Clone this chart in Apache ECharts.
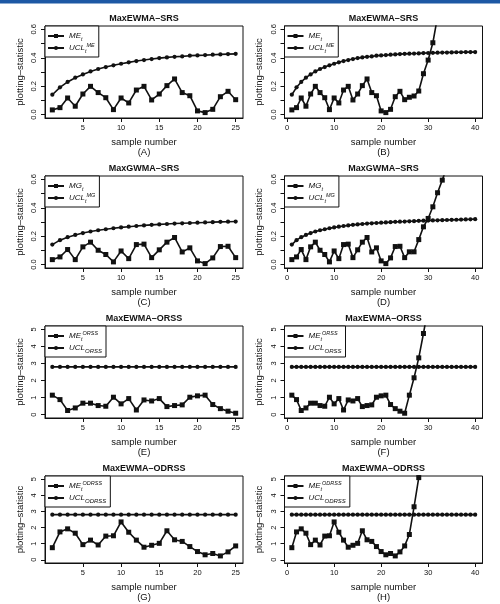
<!DOCTYPE html>
<html>
<head>
<meta charset="utf-8">
<script src="https://cdn.jsdelivr.net/npm/echarts@6/dist/echarts.min.js"></script>
<style>
html, body { margin: 0; padding: 0; background: #fff; }
#chart { width: 500px; height: 604px; }
</style>
</head>
<body>
<div id="chart"></div>
<script>
// values, sample number = index + 1
var meSrs = [0.033, 0.049, 0.117, 0.059, 0.145, 0.199, 0.155, 0.119, 0.035, 0.117, 0.082, 0.173, 0.199,
	0.103, 0.145, 0.204, 0.251, 0.155, 0.133, 0.026, 0.014, 0.037, 0.126, 0.164, 0.105]
var meSrsShift = [0.033, 0.049, 0.117, 0.059, 0.145, 0.199, 0.155, 0.119, 0.035, 0.117, 0.082, 0.173, 0.199,
	0.103, 0.145, 0.204, 0.251, 0.155, 0.133, 0.026, 0.014, 0.037, 0.126, 0.164, 0.105,
	0.122, 0.131, 0.166, 0.288, 0.384, 0.506, 0.69]
var uclMe = [0.14, 0.192, 0.23, 0.26, 0.283, 0.304, 0.321, 0.335, 0.347, 0.358, 0.368, 0.377, 0.384,
	0.391, 0.398, 0.403, 0.407, 0.41, 0.415, 0.417, 0.419, 0.422, 0.424, 0.426, 0.428]
var uclMeLong = [0.14, 0.192, 0.23, 0.26, 0.283, 0.304, 0.321, 0.335, 0.347, 0.358, 0.368, 0.377, 0.384,
	0.391, 0.398, 0.403, 0.407, 0.41, 0.415, 0.417, 0.419, 0.422, 0.424, 0.426, 0.428,
	0.429, 0.43, 0.431, 0.433, 0.434, 0.435, 0.436, 0.437, 0.437, 0.438, 0.439, 0.439, 0.44, 0.44, 0.44]

var mgSrs = [0.035, 0.054, 0.106, 0.035, 0.125, 0.158, 0.101, 0.071, 0.019, 0.096, 0.042, 0.141, 0.144,
	0.049, 0.104, 0.158, 0.191, 0.089, 0.118, 0.026, 0.007, 0.047, 0.127, 0.129, 0.049]
var mgSrsShift = [0.035, 0.054, 0.106, 0.035, 0.125, 0.158, 0.101, 0.071, 0.019, 0.096, 0.042, 0.141, 0.144,
	0.049, 0.104, 0.158, 0.191, 0.089, 0.118, 0.026, 0.007, 0.047, 0.127, 0.129, 0.049,
	0.09, 0.09, 0.176, 0.266, 0.325, 0.407, 0.506, 0.595, 0.69]
var uclMg = [0.141, 0.172, 0.193, 0.209, 0.222, 0.233, 0.242, 0.249, 0.256, 0.262, 0.267, 0.272, 0.276,
	0.28, 0.283, 0.286, 0.289, 0.291, 0.293, 0.295, 0.297, 0.299, 0.301, 0.302, 0.303]
var uclMgLong = [0.141, 0.172, 0.193, 0.209, 0.222, 0.233, 0.242, 0.249, 0.256, 0.262, 0.267, 0.272, 0.276,
	0.28, 0.283, 0.286, 0.289, 0.291, 0.293, 0.295, 0.297, 0.299, 0.301, 0.302, 0.303,
	0.305, 0.306, 0.308, 0.309, 0.31, 0.311, 0.312, 0.313, 0.314, 0.315, 0.316, 0.317, 0.318, 0.319, 0.32]

var meOrss = [1.14, 0.88, 0.24, 0.39, 0.67, 0.67, 0.53, 0.49, 1.02, 0.63, 0.94, 0.27, 0.86,
	0.8, 0.94, 0.47, 0.53, 0.57, 1.02, 1.1, 1.14, 0.59, 0.35, 0.2, 0.08]
var meOrssShift = [1.14, 0.88, 0.24, 0.39, 0.67, 0.67, 0.53, 0.49, 1.02, 0.63, 0.94, 0.27, 0.86,
	0.8, 0.94, 0.47, 0.53, 0.57, 1.02, 1.1, 1.14, 0.59, 0.35, 0.2, 0.08,
	1.14, 2.16, 3.33, 4.76, 6.3]
var meOdrss = [0.75, 1.73, 1.92, 1.65, 0.94, 1.22, 0.92, 1.47, 1.49, 2.35, 1.71, 1.22, 0.78,
	0.9, 1.02, 1.8, 1.24, 1.14, 0.82, 0.51, 0.31, 0.39, 0.24, 0.49, 0.86]
var meOdrssShift = [0.75, 1.73, 1.92, 1.65, 0.94, 1.22, 0.92, 1.47, 1.49, 2.35, 1.71, 1.22, 0.78,
	0.9, 1.02, 1.8, 1.24, 1.14, 0.82, 0.51, 0.31, 0.39, 0.24, 0.49, 0.86,
	1.57, 3.29, 5.1, 6.9]
var uclRss = [2.8, 2.8, 2.8, 2.8, 2.8, 2.8, 2.8, 2.8, 2.8, 2.8, 2.8, 2.8, 2.8,
	2.8, 2.8, 2.8, 2.8, 2.8, 2.8, 2.8, 2.8, 2.8, 2.8, 2.8, 2.8]
var uclRssLong = [2.8, 2.8, 2.8, 2.8, 2.8, 2.8, 2.8, 2.8, 2.8, 2.8, 2.8, 2.8, 2.8,
	2.8, 2.8, 2.8, 2.8, 2.8, 2.8, 2.8, 2.8, 2.8, 2.8, 2.8, 2.8,
	2.8, 2.8, 2.8, 2.8, 2.8, 2.8, 2.8, 2.8, 2.8, 2.8, 2.8, 2.8, 2.8, 2.8, 2.8]

var xTicksShort = [5, 10, 15, 20, 25]
var xTicksLong = [0, 10, 20, 30, 40]
var yTicksSrs = [0, 0.1, 0.2, 0.3, 0.4, 0.5, 0.6]
var yLabelsSrs = [0, 0.2, 0.4, 0.6]
var yTicksRss = [0, 1, 2, 3, 4, 5]

var panels = [
	{ title: 'MaxEWMA\u2013SRS', tag: '(A)', me: meSrs, ucl: uclMe, meText: 'ME{sub|t}', uclText: 'UCL{sub|t}{sup|ME}', srs: true },
	{ title: 'MaxEWMA\u2013SRS', tag: '(B)', me: meSrsShift, ucl: uclMeLong, meText: 'ME{sub|t}', uclText: 'UCL{sub|t}{sup|ME}', srs: true },
	{ title: 'MaxGWMA\u2013SRS', tag: '(C)', me: mgSrs, ucl: uclMg, meText: 'MG{sub|t}', uclText: 'UCL{sub|t}{sup|MG}', srs: true },
	{ title: 'MaxGWMA\u2013SRS', tag: '(D)', me: mgSrsShift, ucl: uclMgLong, meText: 'MG{sub|t}', uclText: 'UCL{sub|t}{sup|MG}', srs: true },
	{ title: 'MaxEWMA\u2013ORSS', tag: '(E)', me: meOrss, ucl: uclRss, meText: 'ME{sub|t}{sup2|ORSS}', uclText: 'UCL{sub2|ORSS}', srs: false },
	{ title: 'MaxEWMA\u2013ORSS', tag: '(F)', me: meOrssShift, ucl: uclRssLong, meText: 'ME{sub|t}{sup2|ORSS}', uclText: 'UCL{sub2|ORSS}', srs: false },
	{ title: 'MaxEWMA\u2013ODRSS', tag: '(G)', me: meOdrss, ucl: uclRss, meText: 'ME{sub|t}{sup2|ODRSS}', uclText: 'UCL{sub2|ODRSS}', srs: false },
	{ title: 'MaxEWMA\u2013ODRSS', tag: '(H)', me: meOdrssShift, ucl: uclRssLong, meText: 'ME{sub|t}{sup2|ODRSS}', uclText: 'UCL{sub2|ODRSS}', srs: false }
]

var font = 'Liberation Sans, Arial, sans-serif'
var ink = '#111'
var rich = {
	sub: { fontSize: 5.5, fontStyle: 'italic', fontFamily: font, color: ink, lineHeight: 6, verticalAlign: 'bottom' },
	sup: { fontSize: 5.5, fontStyle: 'italic', fontFamily: font, color: ink, lineHeight: 6, verticalAlign: 'top' },
	sub2: { fontSize: 6, fontStyle: 'italic', fontFamily: font, color: ink, lineHeight: 7, verticalAlign: 'bottom' },
	sup2: { fontSize: 5.5, fontFamily: font, color: ink, lineHeight: 6, verticalAlign: 'top' }
}

var grids = [], xAxes = [], yAxes = [], series = [], legends = [], titles = []
var labelMap = {}

panels.forEach(function (p, i) {
	var col = i % 2, row = Math.floor(i / 2)
	var left = col === 0 ? 45 : 284.5
	var top = 26 + 150 * row
	grids.push({ left: left, top: top, width: 198, height: 92, show: true, borderColor: ink, borderWidth: 1, containLabel: false })
	xAxes.push({
		type: 'value', gridIndex: i,
		min: col === 0 ? 0.04 : -0.56, max: col === 0 ? 25.96 : 41.56,
		splitLine: { show: false },
		axisLine: { show: true, onZero: false, lineStyle: { color: ink } },
		axisTick: { show: true, length: 4, lineStyle: { color: ink }, customValues: col === 0 ? xTicksShort : xTicksLong },
		axisLabel: { fontSize: 7.5, color: ink, fontFamily: font, margin: 6, customValues: col === 0 ? xTicksShort : xTicksLong },
		name: 'sample number\n' + p.tag, nameLocation: 'middle', nameGap: 19,
		nameTextStyle: { fontSize: 9.5, color: ink, fontFamily: font, lineHeight: 10.5 }
	})
	yAxes.push({
		type: 'value', gridIndex: i,
		min: p.srs ? -0.024 : -0.2, max: p.srs ? 0.624 : 5.2,
		splitLine: { show: false },
		axisLine: { show: true, onZero: false, lineStyle: { color: ink } },
		axisTick: { show: true, length: 4, lineStyle: { color: ink }, customValues: p.srs ? yTicksSrs : yTicksRss },
		axisLabel: {
			fontSize: 7.5, color: ink, fontFamily: font, margin: 7, rotate: 90,
			customValues: p.srs ? yLabelsSrs : yTicksRss,
			formatter: function (v) { return p.srs ? v.toFixed(1) : String(v) }
		},
		name: 'plotting\u2013statistic', nameLocation: 'middle', nameGap: 20,
		nameTextStyle: { fontSize: 9.5, color: ink, fontFamily: font }
	})
	var meName = 'me' + i, uclName = 'ucl' + i
	labelMap[meName] = p.meText
	labelMap[uclName] = p.uclText
	series.push({
		name: meName, type: 'line', xAxisIndex: i, yAxisIndex: i,
		data: p.me.map(function (v, k) { return [k + 1, v] }),
		symbol: 'rect', symbolSize: 5, clip: true,
		lineStyle: { color: ink, width: 1.6 }, itemStyle: { color: ink }
	})
	series.push({
		name: uclName, type: 'line', xAxisIndex: i, yAxisIndex: i,
		data: p.ucl.map(function (v, k) { return [k + 1, v] }),
		symbol: 'circle', symbolSize: 4.2, clip: true,
		lineStyle: { color: ink, width: 1.6 }, itemStyle: { color: ink }
	})
	legends.push({
		data: [meName, uclName], orient: 'vertical', left: left, top: top,
		backgroundColor: '#fff', borderColor: ink, borderWidth: 1,
		padding: [4, 4, 3, 2], itemGap: 0, itemWidth: 16, itemHeight: 5,
		selectedMode: false,
		textStyle: { fontSize: 8, fontStyle: 'italic', fontFamily: font, color: ink, lineHeight: 12, rich: rich },
		formatter: function (name) { return labelMap[name] }
	})
	titles.push({
		text: p.title, left: left + 99, top: 14 + 150 * row, textAlign: 'center', padding: 0,
		textStyle: { fontSize: 9, fontWeight: 'bold', fontFamily: font, color: ink }
	})
})

var myChart = echarts.init(document.getElementById('chart'), null, { renderer: 'canvas' })
var option = {
	animation: false,
	backgroundColor: '#fff',
	title: titles,
	legend: legends,
	grid: grids,
	xAxis: xAxes,
	yAxis: yAxes,
	series: series,
	graphic: [{ type: 'rect', shape: { x: 0, y: 0, width: 500, height: 3.5 }, style: { fill: '#1d58a4' } }]
}
myChart.setOption(option)
</script>
</body>
</html>
